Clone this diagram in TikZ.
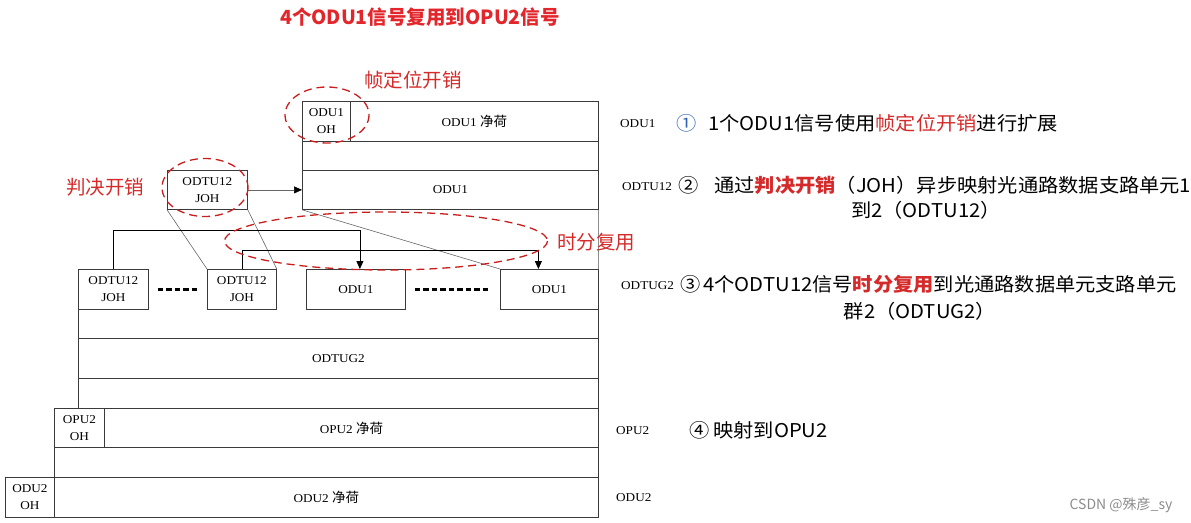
\documentclass[tikz,border=0pt]{standalone}
\usepackage{fontspec}
\setmainfont{Liberation Serif}[FakeStretch=1.1]
\newfontfamily\cjk{Noto Sans CJK SC}
\newfontfamily\cjkwide{Noto Sans CJK SC}[FakeStretch=1.065]
\usepackage{xcolor}
\usetikzlibrary{
    arrows.meta,
    positioning,
    calc
}
\definecolor{titlered}{HTML}{E3262B}
\definecolor{notered}{HTML}{D42A2A}
\definecolor{ringred}{HTML}{C81E1E}
\definecolor{numblue}{HTML}{2E64B4}
\definecolor{boxline}{HTML}{3A3A3A}

\begin{document}
\begin{tikzpicture}[x=1pt, y=-1pt,
    cell/.style={draw=boxline, line width=0.8pt, inner sep=0pt, anchor=north west,
        align=center, font=\fontsize{12}{17}\selectfont},
    tag/.style={anchor=west, inner sep=0pt, font=\fontsize{12}{14}\selectfont},
    note/.style={inner sep=0pt, text=notered, font=\cjk\fontsize{19.5}{22}\selectfont},
    expl/.style={anchor=west, inner sep=0pt, font=\cjkwide\fontsize{19}{22}\selectfont},
    ring/.style={draw=ringred, line width=1.3pt, dash pattern=on 8pt off 5pt},
    thin/.style={draw=black!60, line width=0.6pt},
    feed/.style={draw=black, line width=0.8pt, -{Triangle[length=8pt, width=7pt]}},
    gap/.style={line width=2.4pt, dash pattern=on 5.5pt off 3pt}
]
                \useasboundingbox (0,0) rectangle (1191,522);
                \node[inner sep=0pt, text=titlered, font=\cjk\bfseries\fontsize{19.5}{22}\selectfont] (title) at (420,17) {4个ODU1信号复用到OPU2信号};

                \node[cell, minimum width=48, minimum height=40] (odu1oh) at (302,101) {ODU1\\OH};
                \node[cell, minimum width=248, minimum height=40] (odu1pl) at (350,101) {ODU1 {\cjk\fontsize{13.5}{17}\selectfont 净荷}};
                \node[cell, minimum width=296, minimum height=29] (odu1gap) at (302,141) {};
                \node[cell, minimum width=296, minimum height=39] (odu1) at (302,170) {ODU1};
                \node[cell, minimum width=80, minimum height=39] (joh) at (167,170) {ODTU12\\JOH};

                \node[cell, minimum width=70, minimum height=40] (tu1) at (78,269) {ODTU12\\JOH};
                \node[cell, minimum width=69, minimum height=40] (tu2) at (207,269) {ODTU12\\JOH};
                \node[cell, minimum width=99, minimum height=40] (du1) at (306,269) {ODU1};
                \node[cell, minimum width=98, minimum height=40] (du4) at (500,269) {ODU1};

                \node[cell, minimum width=520, minimum height=40] (tug2) at (78,338) {ODTUG2};
                \node[cell, minimum width=520, minimum height=30] (tug2gap) at (78,378) {};
                \node[cell, minimum width=50, minimum height=39] (opu2oh) at (54,408) {OPU2\\OH};
                \node[cell, minimum width=494, minimum height=39] (opu2pl) at (104,408) {OPU2 {\cjk\fontsize{13.5}{17}\selectfont 净荷}};
                \node[cell, minimum width=544, minimum height=30] (opu2gap) at (54,447) {};
                \node[cell, minimum width=49, minimum height=40] (odu2oh) at (5,477) {ODU2\\OH};
                \node[cell, minimum width=544, minimum height=40] (odu2pl) at (54,477) {ODU2 {\cjk\fontsize{13.5}{17}\selectfont 净荷}};

                \draw[draw=boxline, line width=0.8pt] (tu1.south west) -- (tug2.north west);
                \draw[draw=boxline, line width=0.8pt] (du4.south east) -- (tug2.north east);
                \draw[draw=black!45, line width=0.8pt] (odu1.south east) -- (du4.north east);

                \draw[thin, -{Triangle[length=8pt, width=7pt, color=black]}] (joh.east) -- (odu1.west);
                \draw[thin] (joh.south west) -- (tu2.north west);
                \draw[thin] (joh.south east) -- (tu2.north east);
                \draw[thin] (odu1.south west) -- (du4.north west);
                \draw[feed] (tu1.north) -- ++(0,-39) -| ([xshift=4pt]du1.north);
                \draw[feed] (tu2.north) -- ++(0,-19) -| ([xshift=-11pt]du4.north);
                \draw[gap] ($(tu1.east)+(9,0)$) -- ($(tu2.west)+(-9,0)$);
                \draw[gap] ($(du1.east)+(9,0)$) -- ($(du4.west)+(-9,0)$);

                \draw[ring] (327,115) ellipse [x radius=42, y radius=28];
                \draw[ring] (205,187.5) ellipse [x radius=43, y radius=29];
                \draw[ring] (386,241) ellipse [x radius=161.5, y radius=29];
                \node[note] (fas) at (413,80) {帧定位开销};
                \node[note] (joht) at (105,187) {判决开销};
                \node[note, anchor=west] (tdm) at (557,242) {时分复用};

                \node[tag] (t1) at (620,124) {ODU1};
                \node[tag] (t2) at (622,187) {ODTU12};
                \node[tag] (t3) at (621,286) {ODTUG2};
                \node[tag] (t4) at (616,431) {OPU2};
                \node[tag] (t5) at (616,498) {ODU2};

                \node[expl] (s1) at (676,123) {\textcolor{numblue}{①}\hspace{12pt}1个ODU1信号使用\textcolor{notered}{帧定位开销}进行扩展};
                \node[expl] (s2) at (678,185) {②\hspace{16pt}通过\textcolor{notered}{\bfseries 判决开销}（JOH）异步映射光通路数据支路单元1};
                \node[expl, anchor=center] (s2b) at (926,210) {到2（ODTU12）};
                \node[expl] (s3) at (680,284) {③\hspace{3pt}4个ODTU12信号\textcolor{notered}{\bfseries 时分复用}到光通路数据单元支路单元};
                \node[expl, anchor=center] (s3b) at (920,311) {群2（ODTUG2）};
                \node[expl] (s4) at (689,430) {④\hspace{4pt}映射到OPU2};

                \node[inner sep=0pt, text=black!45, font=\cjk\fontsize{14}{16}\selectfont] (mark) at (1121,505) {CSDN @殊彦\_sy};
\end{tikzpicture}
\end{document}
